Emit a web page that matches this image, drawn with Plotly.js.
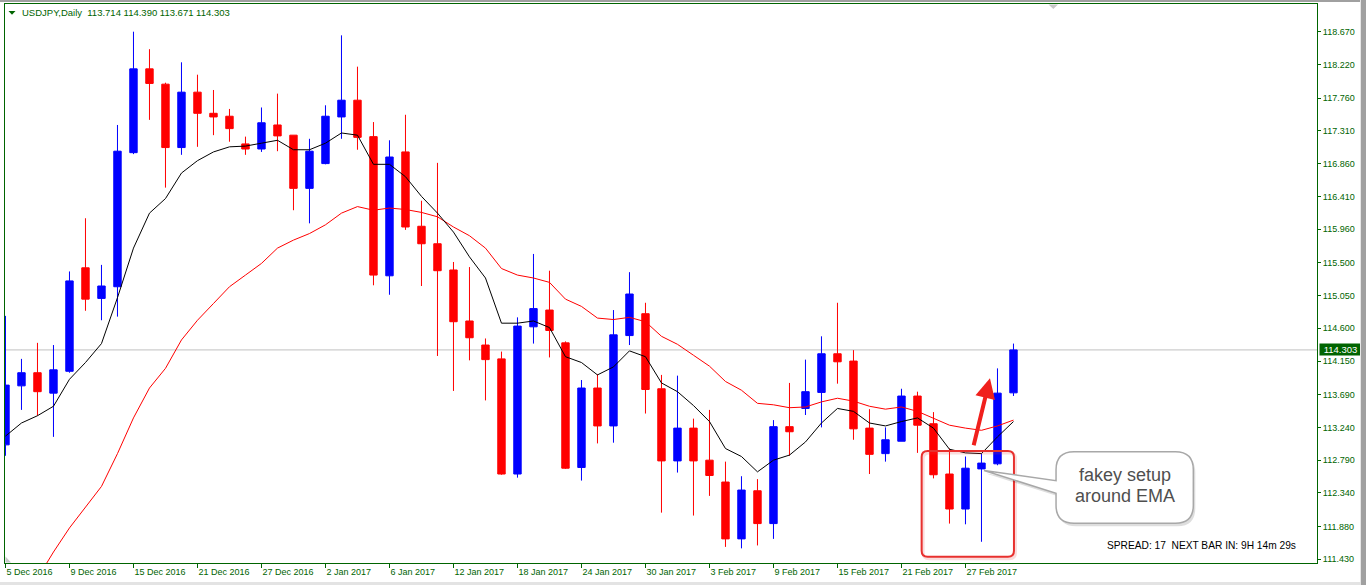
<!DOCTYPE html>
<html>
<head>
<meta charset="utf-8">
<script src="https://cdn.plot.ly/plotly-3.0.1.min.js"></script>
<style>
  html, body { margin: 0; padding: 0; background: #ffffff; }
  #wrap { position: relative; width: 1366px; height: 585px; overflow: hidden; }
  #chart { position: absolute; left: 0; top: 0; width: 1366px; height: 585px; }
  .edge { position: absolute; pointer-events: none; }
</style>
</head>
<body>
<div id="wrap">
  <div id="chart"></div>
  <div class="edge" style="left:0;top:0;width:1366px;height:2px;background:#a0a0a0;"></div>
  <div class="edge" style="left:1360px;top:0;width:1px;height:585px;background:#e6e6e6;"></div>
  <div class="edge" style="left:1361px;top:0;width:5px;height:585px;background:#a0a0a0;"></div>
  <div class="edge" style="left:0;top:582px;width:1361px;height:3px;background:#e3e3e3;"></div>
</div>
<script>
// ---------------- DATA ----------------
const dates = [
  "2016-12-05","2016-12-06","2016-12-07","2016-12-08","2016-12-09",
  "2016-12-12","2016-12-13","2016-12-14","2016-12-15","2016-12-16",
  "2016-12-19","2016-12-20","2016-12-21","2016-12-22","2016-12-23",
  "2016-12-26","2016-12-27","2016-12-28","2016-12-29","2016-12-30",
  "2017-01-02","2017-01-03","2017-01-04","2017-01-05","2017-01-06",
  "2017-01-09","2017-01-10","2017-01-11","2017-01-12","2017-01-13",
  "2017-01-16","2017-01-17","2017-01-18","2017-01-19","2017-01-20",
  "2017-01-23","2017-01-24","2017-01-25","2017-01-26","2017-01-27",
  "2017-01-30","2017-01-31","2017-02-01","2017-02-02","2017-02-03",
  "2017-02-06","2017-02-07","2017-02-08","2017-02-09","2017-02-10",
  "2017-02-13","2017-02-14","2017-02-15","2017-02-16","2017-02-17",
  "2017-02-20","2017-02-21","2017-02-22","2017-02-23","2017-02-24",
  "2017-02-27","2017-02-28","2017-03-01","2017-03-02"
];
const openP = [113.00,113.81,113.99,113.71,114.01,115.43,115.01,115.17,117.01,118.16,
  117.95,117.08,117.84,117.55,117.51,117.13,117.06,117.39,117.25,116.52,
  116.86,117.50,117.73,117.23,115.32,117.02,116.00,115.76,115.40,114.70,
  114.37,114.18,112.60,114.62,114.85,114.40,112.69,113.78,113.26,114.50,
  114.80,113.77,112.78,113.23,112.79,112.49,111.71,112.37,111.92,113.25,
  113.50,113.72,114.25,114.15,113.23,112.88,113.05,113.67,113.29,112.60,
  112.12,112.67,112.74,113.714];
const highP = [114.77,114.18,114.40,114.37,115.38,116.11,115.47,117.39,118.67,118.43,
  117.97,118.25,118.08,117.87,117.61,117.23,117.63,117.82,117.25,117.20,
  117.66,118.62,118.19,117.43,117.18,117.53,116.35,116.87,115.51,115.44,
  114.46,114.28,114.75,115.62,115.39,114.42,113.89,113.97,114.85,115.37,
  114.95,113.96,113.95,113.36,113.48,112.77,112.57,112.53,113.34,113.85,
  114.17,114.49,114.95,114.30,113.49,113.24,113.77,113.73,113.45,112.95,
  112.84,112.88,114.05,114.390];
const lowP = [112.85,113.48,113.40,113.11,113.99,114.84,114.71,114.76,116.99,117.46,
  116.53,116.98,117.09,117.25,117.16,116.98,117.02,117.03,116.22,116.04,
  116.85,117.20,117.05,115.19,115.06,115.95,115.18,114.22,113.74,114.16,
  113.61,112.59,112.55,114.39,114.20,112.67,112.51,113.02,113.03,114.37,
  113.43,112.07,112.62,112.03,112.30,111.60,111.58,111.62,111.71,112.85,
  113.41,113.24,113.84,113.07,112.60,112.77,113.05,112.89,112.54,111.92,
  111.91,111.67,112.72,113.671];
const closeP = [113.82,113.99,113.73,114.03,115.25,115.00,115.18,117.03,118.16,117.96,
  117.08,117.84,117.55,117.50,117.34,117.06,117.42,117.24,116.52,117.03,
  117.51,117.73,117.22,115.33,116.95,115.99,115.76,115.39,114.69,114.47,
  114.17,112.60,114.63,114.87,114.57,112.68,113.78,113.26,114.51,115.07,
  113.76,112.78,113.23,112.78,112.58,111.71,112.38,111.92,113.25,113.18,
  113.73,114.25,114.14,113.22,112.87,113.07,113.67,113.27,112.59,112.12,
  112.68,112.75,113.71,114.303];
// fast EMA (black line)
const emaFast = [113.12,113.30,113.40,113.53,113.90,114.13,114.39,115.02,115.70,116.18,
  116.38,116.73,116.90,117.02,117.09,117.10,117.14,117.18,117.05,117.05,
  117.14,117.28,117.25,116.85,116.85,116.68,116.41,116.18,115.92,115.58,
  115.29,114.67,114.67,114.70,114.61,114.21,114.13,113.96,114.07,114.29,
  114.21,113.85,113.73,113.54,113.32,112.95,112.84,112.63,112.79,112.86,
  113.04,113.30,113.50,113.46,113.30,113.26,113.32,113.37,113.23,112.94,
  112.89,112.88,113.11,113.32];
// slow EMA (red line); first points lie below the visible range
const emaSlow = [null,null,111.17,111.53,111.86,112.15,112.43,112.88,113.37,113.78,
  114.05,114.44,114.71,114.94,115.17,115.33,115.49,115.70,115.81,115.90,
  116.02,116.18,116.27,116.22,116.25,116.23,116.19,116.13,115.99,115.87,
  115.70,115.42,115.33,115.29,115.23,115.00,114.90,114.74,114.72,114.75,
  114.69,114.49,114.38,114.23,114.08,113.87,113.75,113.57,113.55,113.51,
  113.52,113.59,113.64,113.60,113.53,113.49,113.52,113.46,113.37,113.27,
  113.23,113.20,113.26,113.34];
const tickDates = ["2016-12-05","2016-12-09","2016-12-15","2016-12-21","2016-12-27",
  "2017-01-02","2017-01-06","2017-01-12","2017-01-18","2017-01-24","2017-01-30",
  "2017-02-03","2017-02-09","2017-02-15","2017-02-21","2017-02-27"];
const tickLabels = ["5 Dec 2016","9 Dec 2016","15 Dec 2016","21 Dec 2016","27 Dec 2016",
  "2 Jan 2017","6 Jan 2017","12 Jan 2017","18 Jan 2017","24 Jan 2017","30 Jan 2017",
  "3 Feb 2017","9 Feb 2017","15 Feb 2017","21 Feb 2017","27 Feb 2017"];
const priceTicks = [111.430,111.880,112.340,112.790,113.240,113.690,114.150,114.600,
  115.050,115.500,115.960,116.410,116.860,117.310,117.760,118.220,118.670];
const symbolTitle = "USDJPY,Daily";
const spreadText = "SPREAD: 17\u00a0\u00a0NEXT BAR IN: 9H 14m 29s";
const calloutLines = ["fakey setup", "around EMA"];

// ---------------- GEOMETRY ----------------
const idx = dates.map((d, i) => i);
const tickIdx = tickDates.map(d => dates.indexOf(d));
const XR = [-0.03, 81.97];
const YR = [111.379, 119.050];
const PLOT_W = 1312, PLOT_H = 559, ML = 5, MT = 4;
const xPerPx = (XR[1] - XR[0]) / PLOT_W;
const yPerPx = (YR[1] - YR[0]) / PLOT_H;
// pixel -> paper helpers for chart furniture
const ppx = x => (x - ML) / PLOT_W;
const ppy = y => (MT + PLOT_H - y) / PLOT_H;
// pixel row -> price (for annotation placement)
const pyPrice = y => YR[1] - (y - MT) * yPerPx;

function roundRectPath(x0, x1, yT, yB, rPx, tail) {
  const rx = rPx * xPerPx, ry = rPx * yPerPx;
  let p = `M${x0 + rx},${yT} L${x1 - rx},${yT} Q${x1},${yT} ${x1},${yT - ry} ` +
          `L${x1},${yB + ry} Q${x1},${yB} ${x1 - rx},${yB} L${x0 + rx},${yB} ` +
          `Q${x0},${yB} ${x0},${yB + ry} `;
  if (tail) {
    p += `L${x0},${tail.yLow} L${tail.x},${tail.y} L${x0},${tail.yHigh} `;
  }
  p += `L${x0},${yT - ry} Q${x0},${yT} ${x0 + rx},${yT} Z`;
  return p;
}

const lastClose = closeP[closeP.length - 1];

// focus box around the setup candles
const boxX0 = 57.26, boxX1 = 63.03, boxYT = 112.916, boxYB = 111.465;
// callout bubble
const bubX0 = 65.66, bubX1 = 74.24, bubYT = 112.906, bubYB = 111.924;
const bubTail = { x: 61.16, y: 112.648, yHigh: 112.508, yLow: 112.335 };
const shX = 2 * xPerPx, shY = 3 * yPerPx;

const traces = [
  { type: 'scatter', mode: 'lines', x: idx, y: emaSlow, line: { color: '#ff0000', width: 1 },
    hoverinfo: 'skip', connectgaps: false },
  { type: 'scatter', mode: 'lines', x: idx, y: emaFast, line: { color: '#000000', width: 1 },
    hoverinfo: 'skip' },
  { type: 'candlestick', x: idx, open: openP, high: highP, low: lowP, close: closeP,
    increasing: { line: { color: '#0000ff', width: 1 }, fillcolor: '#0000ff' },
    decreasing: { line: { color: '#ff0000', width: 1 }, fillcolor: '#ff0000' },
    whiskerwidth: 0, hoverinfo: 'skip' }
];

const green = '#006400';
const axFont = { family: 'Liberation Sans, Arial, sans-serif', size: 9, color: green };

const layout = {
  width: 1366, height: 585,
  margin: { l: ML, r: 1366 - ML - PLOT_W, t: MT, b: 585 - MT - PLOT_H, pad: 0 },
  paper_bgcolor: 'rgba(0,0,0,0)', plot_bgcolor: '#ffffff',
  showlegend: false,
  boxgap: 0.34,
  xaxis: {
    type: 'linear', range: XR, showgrid: false, zeroline: false,
    showline: true, linecolor: green, linewidth: 1, mirror: true,
    ticks: 'outside', ticklen: 4, tickcolor: green, tickwidth: 1,
    tickvals: tickIdx, ticktext: tickLabels, tickfont: axFont,
    ticklabelposition: 'outside right',
    rangeslider: { visible: false }, fixedrange: true
  },
  yaxis: {
    side: 'right', range: YR, showgrid: false, zeroline: false,
    showline: true, linecolor: green, linewidth: 1, mirror: true,
    ticks: 'outside', ticklen: 3, tickcolor: green, tickwidth: 1,
    tickvals: priceTicks, ticktext: priceTicks.map(v => v.toFixed(3)),
    tickfont: axFont, fixedrange: true
  },
  shapes: [
    { type: 'line', xref: 'paper', x0: 0, x1: 1, yref: 'y', y0: lastClose, y1: lastClose,
      line: { color: '#c0c0c0', width: 1 }, layer: 'below' },
    // focus box shadow + box
    { type: 'path', xref: 'x', yref: 'y',
      path: roundRectPath(boxX0 + 1.5 * xPerPx, boxX1 + 1.5 * xPerPx, boxYT - 2 * yPerPx, boxYB - 2 * yPerPx, 6),
      line: { color: 'rgba(230,60,60,0.18)', width: 3 } },
    { type: 'path', xref: 'x', yref: 'y', path: roundRectPath(boxX0, boxX1, boxYT, boxYB, 6),
      line: { color: '#e8302e', width: 2 } },
    // bubble shadow + bubble
    { type: 'path', xref: 'x', yref: 'y',
      path: roundRectPath(bubX0 + shX, bubX1 + shX, bubYT - shY, bubYB - shY, 18,
        { x: bubTail.x + shX, y: bubTail.y - shY, yHigh: bubTail.yHigh - shY, yLow: bubTail.yLow - shY }),
      fillcolor: 'rgba(0,0,0,0.13)', line: { width: 0 } },
    { type: 'path', xref: 'x', yref: 'y',
      path: roundRectPath(bubX0, bubX1, bubYT, bubYB, 18, bubTail),
      fillcolor: '#ffffff', line: { color: '#a8a8a8', width: 1.5 } },
    // MT4 furniture: title triangle, shift marker, corner marker
    { type: 'path', xref: 'paper', yref: 'paper',
      path: `M${ppx(8.5)},${ppy(11)} L${ppx(15.5)},${ppy(11)} L${ppx(12)},${ppy(14.8)} Z`,
      fillcolor: green, line: { width: 0 } },
    { type: 'path', xref: 'paper', yref: 'paper',
      path: `M${ppx(1048.5)},${ppy(4.5)} L${ppx(1058)},${ppy(4.5)} L${ppx(1053.3)},${ppy(9)} Z`,
      fillcolor: '#c8c8c8', line: { width: 0 } },
    { type: 'path', xref: 'paper', yref: 'paper',
      path: `M${ppx(5.5)},${ppy(556.5)} L${ppx(5.5)},${ppy(562.5)} L${ppx(11)},${ppy(562.5)} Z`,
      fillcolor: '#c8c8c8', line: { width: 0 } }
  ],
  annotations: [
    { xref: 'paper', yref: 'paper', x: ppx(20), y: ppy(12.7), xanchor: 'left', yanchor: 'middle',
      showarrow: false,
      text: symbolTitle + '\u00a0\u00a0' + [openP, highP, lowP, closeP].map(a => a[a.length - 1].toFixed(3)).join(' '),
      font: { family: 'Liberation Sans, Arial, sans-serif', size: 9.5, color: green } },
    { xref: 'paper', yref: 'y', x: 1, y: lastClose, xanchor: 'left', yanchor: 'middle',
      xshift: 2, showarrow: false, text: lastClose.toFixed(3), bgcolor: green,
      borderpad: 0, width: 41, height: 11, align: 'center',
      font: { family: 'Liberation Sans, Arial, sans-serif', size: 9.5, color: '#ffffff' } },
    { xref: 'paper', yref: 'paper', x: ppx(1298), y: ppy(545), xanchor: 'right', yanchor: 'middle',
      showarrow: false, text: spreadText,
      font: { family: 'Liberation Sans, Arial, sans-serif', size: 10.2, color: '#000000' } },
    { xref: 'x', yref: 'y', axref: 'x', ayref: 'y', x: 61.53, y: 113.914, ax: 60.49, ay: 112.975,
      showarrow: true, text: '', arrowhead: 2, arrowsize: 1, arrowwidth: 4, arrowcolor: '#f0201c',
      standoff: 0, startstandoff: 0 },
    { xref: 'x', yref: 'y', x: (bubX0 + bubX1) / 2, y: pyPrice(475), xanchor: 'center',
      yanchor: 'middle', showarrow: false, text: calloutLines[0],
      font: { family: 'Liberation Sans, Arial, sans-serif', size: 18, color: '#4f4f4f' } },
    { xref: 'x', yref: 'y', x: (bubX0 + bubX1) / 2, y: pyPrice(496), xanchor: 'center',
      yanchor: 'middle', showarrow: false, text: calloutLines[1],
      font: { family: 'Liberation Sans, Arial, sans-serif', size: 18, color: '#4f4f4f' } }
  ]
};

Plotly.newPlot('chart', traces, layout, { displayModeBar: false, staticPlot: true });
</script>
</body>
</html>
